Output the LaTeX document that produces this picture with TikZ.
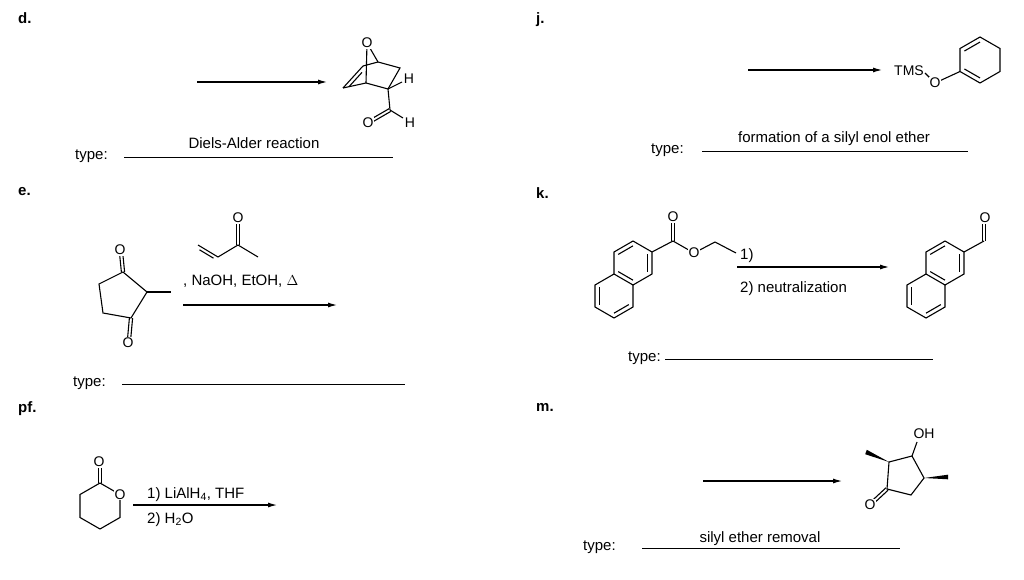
\documentclass[tikz,border=0pt]{standalone}
\usepackage{fontspec}
\setmainfont{Liberation Sans}
\usetikzlibrary{calc,arrows.meta}
\tikzset{
 bd/.style={line width=1.1pt},
 atm/.style={fill=white,inner sep=1pt,font=\fontsize{14}{17}\selectfont},
 txt/.style={inner sep=0pt,font=\fontsize{15}{18}\selectfont},
 lbl/.style={inner sep=0pt,anchor=north west,font=\fontsize{15}{18}\selectfont\bfseries},
 arr/.style={line width=1.1pt,-{Latex[length=9pt,width=5pt]}},
 tl/.style={line width=0.9pt}
}
\newcommand{\dbl}[2]{\draw[bd] ($(#1)!1.6pt!90:(#2)$) -- ($(#2)!1.6pt!-90:(#1)$);
 \draw[bd] ($(#1)!1.6pt!-90:(#2)$) -- ($(#2)!1.6pt!90:(#1)$);}
\newcommand{\inner}[3]{\draw[bd] ($(#1)!0.78!(#2)$) -- ($(#1)!0.78!(#3)$);}
\newcommand{\naph}[3]{%
 \coordinate (#3c) at (#1,#2);
 \coordinate (#3a) at ($(#3c)+(0,-22)$);
 \coordinate (#3b) at ($(#3c)+(19,-11)$);
 \coordinate (#3d) at ($(#3c)+(19,11)$);
 \coordinate (#3e) at ($(#3c)+(0,22)$);
 \coordinate (#3f) at ($(#3c)+(-19,11)$);
 \coordinate (#3g) at ($(#3c)+(-19,-11)$);
 \coordinate (#3C) at ($(#3c)+(-19,33)$);
 \coordinate (#3h) at ($(#3c)+(0,44)$);
 \coordinate (#3i) at ($(#3c)+(-19,55)$);
 \coordinate (#3j) at ($(#3c)+(-38,44)$);
 \coordinate (#3k) at ($(#3c)+(-38,22)$);
 \draw[bd] (#3a)--(#3b)--(#3d)--(#3e)--(#3f)--(#3g)--cycle;
 \draw[bd] (#3e)--(#3h)--(#3i)--(#3j)--(#3k)--(#3f);
 \inner{#3c}{#3g}{#3a}\inner{#3c}{#3b}{#3d}\inner{#3c}{#3e}{#3f}
 \inner{#3C}{#3h}{#3i}\inner{#3C}{#3j}{#3k}}
\begin{document}
\begin{tikzpicture}[x=1pt,y=-1pt]
\useasboundingbox (0,0) rectangle (1024,580);
\fill[white] (0,0) rectangle (1024,580);
% labels
\node[lbl] (ld) at (18,12) {d.};
\node[lbl] (lj) at (536,12) {j.};
\node[lbl] (le) at (18,187) {e.};
\node[lbl] (lk) at (536,187) {k.};
\node[lbl] (lpf) at (18,401) {pf.};
\node[lbl] (lm) at (536,403) {m.};
% ---- d
\coordinate (d1) at (197,82); \coordinate (d2) at (327,82);
\draw[arr] (d1) -- (d2);
\coordinate (O) at (367,43); \coordinate (B1) at (378,62); \coordinate (B2) at (366,83);
\coordinate (Ca) at (363,66); \coordinate (Cb) at (343,88); \coordinate (CH) at (400,68);
\coordinate (C3) at (388,89); \coordinate (Cc) at (390,110);
\draw[bd] (O)--(B1)--(CH)--(C3)--(B2)--(Cb); \draw[bd] (O)--(B2); \draw[bd] (Ca)--(B1);
\draw[bd] (Ca)--(Cb); \draw[bd] ($(Ca)!0.2!(Cb)+(3,2)$)--($(Ca)!0.85!(Cb)+(3,2)$);
\draw[bd] (C3)--(Cc); \draw[bd] (Cc)--(403,118);
\node[atm] (dO) at (O) {O};
\draw[bd] (C3)--(402,82);
\node[atm,fill=none] (dH1) at (409,79) {H};
\node[atm] (dH2) at (410,123) {H};
\coordinate (dO2) at (371,121);
\dbl{Cc}{dO2}
\node[atm] (dO2n) at (368,123) {O};
\draw[tl] (124,157) -- (393,157);
\node[txt,anchor=base west] (dt) at (75,160) {type:};
\node[txt,anchor=base] (dr) at (254,149) {Diels-Alder reaction};
% ---- j
\draw[arr] (748,70) -- (882,70);
\node[atm,fill=none,anchor=base west,inner sep=0pt] (tms) at (894,76) {TMS};
\coordinate (jO) at (935,83);
\coordinate (r1) at (980,37); \coordinate (r2) at (1000,48.5); \coordinate (r3) at (1000,71.5);
\coordinate (r4) at (980,83); \coordinate (r5) at (960,71.5); \coordinate (r6) at (960,48.5);
\coordinate (rc) at (980,60);
\draw[bd] (r1)--(r2)--(r3)--(r4)--(r5)--(r6)--cycle;
\inner{rc}{r6}{r1}\inner{rc}{r5}{r4}
\draw[bd] (925,73)--(jO)--(r5);
\node[atm] (jOn) at (jO) {O};
\draw[tl] (702,151) -- (968,151);
\node[txt,anchor=base west] (jt) at (651,154) {type:};
\node[txt,anchor=base] (jr) at (834,143) {formation of a silyl enol ether};
% ---- e
\coordinate (m1) at (198,245); \coordinate (m2) at (218,257); \coordinate (m3) at (238,245);
\coordinate (m4) at (258,257); \coordinate (mO) at (238,221);
\draw[bd] (m1)--(m2)--(m3)--(m4);
\draw[bd] ($(m1)!0.15!(m2)+(-1.5,3)$)--($(m1)!0.85!(m2)+(-1.5,3)$);
\dbl{m3}{mO}
\node[atm] (mOn) at (238,218) {O};
\coordinate (c1) at (123,272); \coordinate (c2) at (147,292); \coordinate (c3) at (131,318);
\coordinate (c4) at (103,313); \coordinate (c5) at (99,284);
\draw[bd] (c1)--(c2)--(c3)--(c4)--(c5)--cycle;
\draw[bd] (c2)--(171,292);
\coordinate (cO1) at (121,252); \coordinate (cO3) at (129,340);
\dbl{c1}{cO1}\dbl{c3}{cO3}
\node[atm] (cO1n) at (120,250) {O};
\node[atm] (cO3n) at (128,343) {O};
\node[txt,anchor=base west] (er) at (183,285) {, NaOH, EtOH, $\Delta$};
\draw[arr] (183,305) -- (337,305);
\draw[tl] (122,384) -- (405,384);
\node[txt,anchor=base west] (et) at (73,386) {type:};
% ---- k
\naph{633}{263}{n}
\coordinate (k1) at (673,241); \coordinate (kO) at (673,220); \coordinate (kOe) at (694,253);
\coordinate (k2) at (715,242); \coordinate (k3) at (736,253);
\draw[bd] (nb)--(k1)--(kOe)--(k2)--(k3);
\dbl{k1}{kO}
\node[atm] (kOn) at (673,217) {O};
\node[atm] (kOen) at (kOe) {O};
\node[txt,anchor=base west] (k1t) at (740,259) {1)};
\draw[arr] (737,267) -- (889,267);
\node[txt,anchor=base west] (k2t) at (740,292) {2) neutralization};
\naph{945}{263}{p}
\coordinate (p1) at (984,241); \coordinate (pO) at (984,222);
\draw[bd] (pb)--(p1); \dbl{p1}{pO}
\node[atm] (pOn) at (985,218) {O};
\draw[tl] (665,359) -- (933,359);
\node[txt,anchor=base west] (kt) at (628,361) {type:};
% ---- pf
\coordinate (l1) at (100,483); \coordinate (l2) at (120,494.5); \coordinate (l3) at (120,517.5);
\coordinate (l4) at (100,529); \coordinate (l5) at (80,517.5); \coordinate (l6) at (80,494.5);
\draw[bd] (l1)--(l2)--(l3)--(l4)--(l5)--(l6)--cycle;
\coordinate (lO) at (100,465);
\dbl{l1}{lO}
\node[atm] (lOn) at (99,462) {O};
\node[atm] (lO2) at (l2) {O};
\draw[arr] (133,505) -- (277,505);
\node[txt,anchor=base west] (pf1) at (147,498) {1) LiAlH\textsubscript{4}, THF};
\node[txt,anchor=base west] (pf2) at (147,523) {2) H\textsubscript{2}O};
% ---- m
\draw[arr] (703,481) -- (842,481);
\coordinate (q1) at (889,462); \coordinate (q2) at (912,456); \coordinate (q3) at (924,478);
\coordinate (q4) at (911,495); \coordinate (q5) at (887,489); \coordinate (qO) at (873,502);
\draw[bd] (q1)--(q2)--(q3)--(q4)--(q5)--cycle;
\draw[bd] (q2)--(917,442);
\node[atm,fill=none] (qOH) at (924,434) {OH};
\dbl{q5}{qO}
\node[atm] (qOn) at (870,505) {O};
\fill (q1) -- ($(866,452)+(0.8,-2.2)$) -- ($(866,452)+(-0.8,2.2)$) -- cycle;
\fill (q3) -- (948,474.7) -- (948,479.3) -- cycle;
\draw[tl] (642,548) -- (900,548);
\node[txt,anchor=base west] (mt) at (583,550) {type:};
\node[txt,anchor=base] (mr) at (760,542) {silyl ether removal};
\end{tikzpicture}
\end{document}
